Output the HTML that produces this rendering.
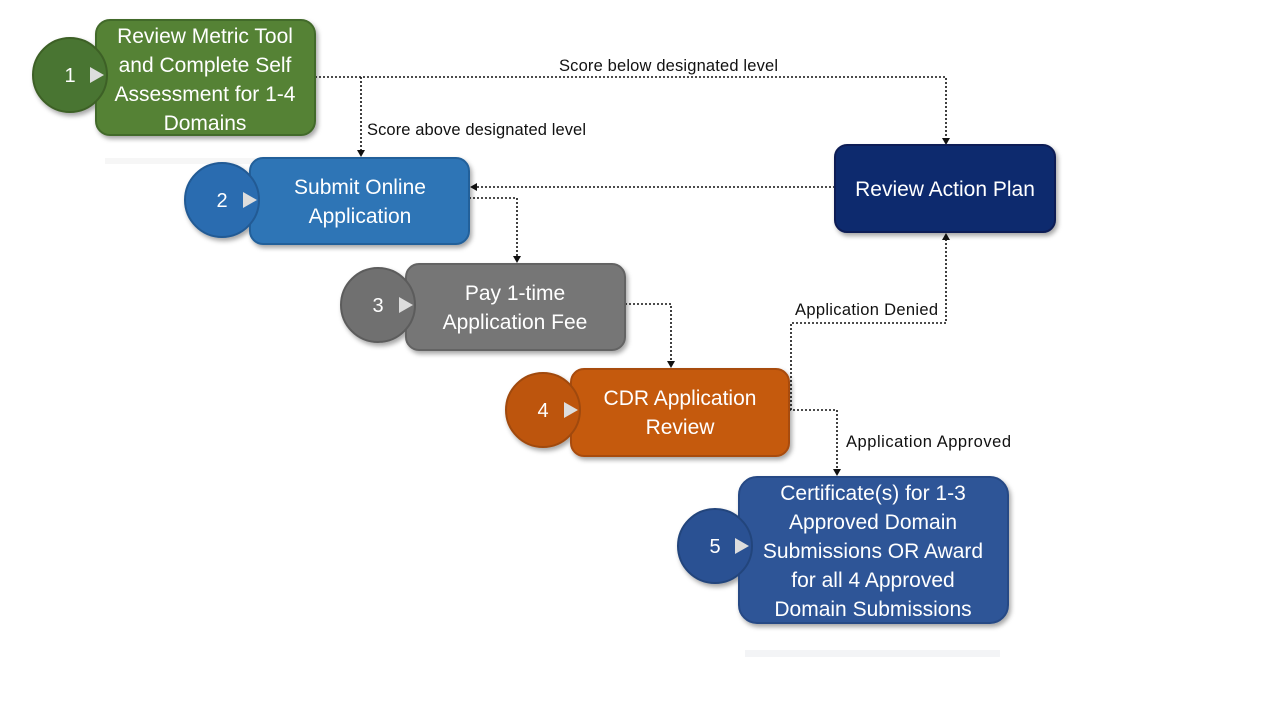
<!DOCTYPE html>
<html><head><meta charset="utf-8"><style>
body{margin:0;background:#fff;width:1280px;height:720px;overflow:hidden}
svg{display:block}
text{font-family:"Liberation Sans","DejaVu Sans",sans-serif}
.b{fill:#fff;font-size:21px;text-anchor:middle}
.l{fill:#111;font-size:16.5px}
.c{stroke:#111;stroke-width:1.6;stroke-dasharray:2 2;fill:none}
.n{fill:#fff;font-size:20px;text-anchor:middle}
</style></head><body>
<svg width="1280" height="720" viewBox="0 0 1280 720">
<defs>
<filter id="s" x="-20%" y="-20%" width="140%" height="150%"><feDropShadow dx="2" dy="3" stdDeviation="2.5" flood-color="#000" flood-opacity="0.35"/></filter>
</defs>
<path class="c" d="M315,77 H946 V140"/>
<path d="M942,138 L950,138 L946,145z" fill="#111"/>
<path class="c" d="M361,77 V152"/>
<path d="M357,150 L365,150 L361,157z" fill="#111"/>
<path class="c" d="M835,187 H476"/>
<path d="M477,183 L477,191 L470,187z" fill="#111"/>
<path class="c" d="M469,198 H517 V258"/>
<path d="M513,256 L521,256 L517,263z" fill="#111"/>
<path class="c" d="M625,304 H671 V363"/>
<path d="M667,361 L675,361 L671,368z" fill="#111"/>
<path class="c" d="M791,410 V323 H946 V238"/>
<path d="M942,240 L950,240 L946,233z" fill="#111"/>
<path class="c" d="M789,410 H837 V471"/>
<path d="M833,469 L841,469 L837,476z" fill="#111"/>
<text class="l" x="559" y="71" textLength="219">Score below designated level</text>
<text class="l" x="367" y="135" textLength="219">Score above designated level</text>
<text class="l" x="795" y="315" textLength="143">Application Denied</text>
<text class="l" x="846" y="447" textLength="165">Application Approved</text>
<rect x="105" y="158" width="210" height="6" fill="#f6f6f6"/>
<rect x="745" y="650" width="255" height="7" fill="#f3f4f6"/>
<g filter="url(#s)">
<rect x="96" y="20" width="219" height="115" rx="14" fill="#548235" stroke="#436a2a" stroke-width="2"/>
<circle cx="70" cy="75" r="37" fill="#4a7530" stroke="#3c6026" stroke-width="2"/>
</g>
<text class="b" x="205" y="43">Review Metric Tool</text>
<text class="b" x="205" y="72">and Complete Self</text>
<text class="b" x="205" y="101">Assessment for 1-4</text>
<text class="b" x="205" y="130">Domains</text>
<text class="n" x="70" y="82">1</text><path d="M90,67 L104,75 L90,83z" fill="#ddd"/>
<g filter="url(#s)">
<rect x="250" y="158" width="219" height="86" rx="13" fill="#2e75b6" stroke="#24609a" stroke-width="2"/>
<circle cx="222" cy="200" r="37" fill="#2a6cb0" stroke="#215a94" stroke-width="2"/>
</g>
<text class="b" x="360" y="194">Submit Online</text>
<text class="b" x="360" y="223">Application</text>
<text class="n" x="222" y="207">2</text><path d="M243,192 L257,200 L243,208z" fill="#ddd"/>
<g filter="url(#s)">
<rect x="406" y="264" width="219" height="86" rx="13" fill="#767676" stroke="#636363" stroke-width="2"/>
<circle cx="378" cy="305" r="37" fill="#6f6f6f" stroke="#5c5c5c" stroke-width="2"/>
</g>
<text class="b" x="515" y="300">Pay 1-time</text>
<text class="b" x="515" y="329">Application Fee</text>
<text class="n" x="378" y="312">3</text><path d="M399,297 L413,305 L399,313z" fill="#ddd"/>
<g filter="url(#s)">
<rect x="571" y="369" width="218" height="87" rx="13" fill="#c55a11" stroke="#a84c0e" stroke-width="2"/>
<circle cx="543" cy="410" r="37" fill="#bd5510" stroke="#a04a0d" stroke-width="2"/>
</g>
<text class="b" x="680" y="405">CDR Application</text>
<text class="b" x="680" y="434">Review</text>
<text class="n" x="543" y="417">4</text><path d="M564,402 L578,410 L564,418z" fill="#ddd"/>
<g filter="url(#s)">
<rect x="739" y="477" width="269" height="146" rx="18" fill="#2f5597" stroke="#264a85" stroke-width="2"/>
<circle cx="715" cy="546" r="37" fill="#2c5193" stroke="#23447c" stroke-width="2"/>
</g>
<text class="b" x="873" y="500">Certificate(s) for 1-3</text>
<text class="b" x="873" y="529">Approved Domain</text>
<text class="b" x="873" y="558">Submissions OR Award</text>
<text class="b" x="873" y="587">for all 4 Approved</text>
<text class="b" x="873" y="616">Domain Submissions</text>
<text class="n" x="715" y="553">5</text><path d="M735,538 L749,546 L735,554z" fill="#ddd"/>
<g filter="url(#s)">
<rect x="835" y="145" width="220" height="87" rx="12" fill="#0f2a6e" stroke="#0a1f55" stroke-width="2"/>
</g>
<text class="b" x="945" y="196">Review Action Plan</text>
</svg>
</body></html>
